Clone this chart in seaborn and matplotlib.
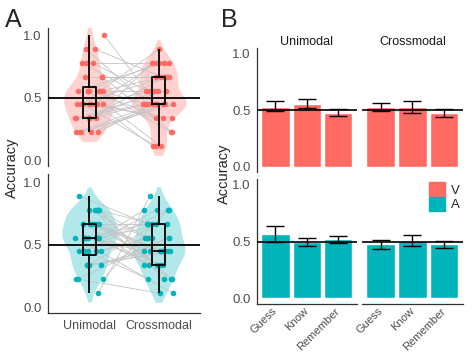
import numpy as np
import pandas as pd
import seaborn as sns
import matplotlib.pyplot as plt
from matplotlib.patches import Patch

# panel A: items correct (out of 9) per participant, same order in both conditions
v_uni = [4, 2, 5, 3, 9, 4, 5, 2, 7, 3, 4, 5, 8, 3, 4, 6, 2, 5, 4, 3, 7, 5, 4, 2, 6, 5, 3, 4, 8, 5, 2, 4, 7, 3, 6, 5]
v_cross = [6, 4, 1, 7, 4, 5, 3, 4, 4, 6, 7, 2, 4, 5, 1, 6, 4, 7, 3, 4, 5, 6, 8, 4, 2, 7, 4, 1, 6, 5, 4, 3, 7, 5, 6, 4]
a_uni = [5, 3, 6, 7, 2, 5, 4, 6, 8, 3, 5, 7, 1, 6, 4, 5, 3, 7, 6, 2, 5, 4, 6, 3, 7, 5, 4, 6, 2, 5, 7, 3, 6, 4, 5, 7]
a_cross = [4, 6, 3, 5, 1, 4, 7, 2, 6, 4, 3, 5, 8, 4, 2, 6, 5, 3, 4, 7, 1, 5, 6, 4, 2, 3, 7, 4, 5, 6, 2, 4, 3, 5, 7, 6]
n_items = 9

conds = ['Unimodal', 'Crossmodal']
resp = ['Guess', 'Know', 'Remember']

# panel B: mean accuracy per response type with error bar bounds
v_uni_mean = [0.53, 0.55, 0.477]
v_uni_lo = [0.49, 0.515, 0.45]
v_uni_hi = [0.58, 0.595, 0.51]
v_cross_mean = [0.524, 0.524, 0.47]
v_cross_lo = [0.494, 0.474, 0.441]
v_cross_hi = [0.56, 0.582, 0.506]
a_uni_mean = [0.565, 0.5, 0.518]
a_uni_lo = [0.5, 0.457, 0.49]
a_uni_hi = [0.633, 0.528, 0.547]
a_cross_mean = [0.475, 0.505, 0.475]
a_cross_lo = [0.435, 0.46, 0.445]
a_cross_hi = [0.513, 0.56, 0.505]

red = '#FF6B63'
teal = '#00B4BB'
grey_txt = '#4D4D4D'

sns.set_style('white')
plt.rcParams['font.family'] = ['Liberation Sans', 'DejaVu Sans']
np.random.seed(7)

W, H = 474, 353
fig = plt.figure(figsize=(W / 100, H / 100), dpi=100)


def px_axes(x0, y0, x1, y1):
    # rectangle given in pixels from the top-left corner
    return fig.add_axes([x0 / W, 1 - y1 / H, (x1 - x0) / W, (y1 - y0) / H])


def style_y(ax, show=True):
    ax.set_yticks([0, 0.5, 1.0])
    if show:
        ax.set_yticklabels(['0.0', '0.5', '1.0'])
        ax.tick_params(axis='y', length=3, width=0.8, color='#333333',
                       labelsize=9.5, labelcolor=grey_txt, pad=1.5)
    else:
        ax.tick_params(axis='y', length=0, labelleft=False)
    ax.set_ylabel('')
    ax.set_xlabel('')
    for s in ax.spines.values():
        s.set_visible(False)
        s.set_color('#333333')
        s.set_linewidth(0.9)
    ax.spines['left'].set_visible(show)


def violin_panel(ax, uni, cross, col, bottom):
    df = pd.DataFrame({'cond': ['Unimodal'] * len(uni) + ['Crossmodal'] * len(cross),
                       'acc': np.array(uni + cross) / n_items})
    sns.violinplot(data=df, x='cond', y='acc', order=conds, color=col, inner=None,
                   linewidth=0, cut=1, bw_adjust=0.75, saturation=1, alpha=0.3, ax=ax)
    n0 = len(ax.collections)
    sns.stripplot(data=df, x='cond', y='acc', order=conds, color=col, size=4,
                  jitter=0.22, linewidth=0, ax=ax, zorder=4)
    pts = np.concatenate([c.get_offsets() for c in ax.collections[n0:]])
    left = pts[pts[:, 0] < 0.5]
    right = pts[pts[:, 0] >= 0.5]
    for p, q in zip(left, right):
        ax.plot([p[0], q[0]], [p[1], q[1]], color='#C4C4C4', lw=0.6, zorder=3)
    sns.boxplot(data=df, x='cond', y='acc', order=conds, fill=False, color='black',
                width=0.2, whis=(0, 100), showcaps=False, linewidth=1.3, ax=ax, zorder=5)
    ax.axhline(0.5, color='black', lw=1.3, zorder=6)
    ax.set_xlim(-0.6, 1.6)
    ax.set_ylim(-0.05, 1.06)
    style_y(ax)
    if bottom:
        ax.spines['bottom'].set_visible(True)
        ax.tick_params(axis='x', length=3, width=0.8, color='#333333',
                       labelsize=9, labelcolor=grey_txt, pad=2)
    else:
        ax.tick_params(axis='x', length=0, labelbottom=False)


def bar_panel(ax, means, lo, hi, col, left, bottom):
    sns.barplot(x=resp, y=means, color=col, saturation=1, width=0.9, ax=ax)
    xs = [p.get_x() + p.get_width() / 2 for p in ax.patches]
    yerr = [np.array(means) - np.array(lo), np.array(hi) - np.array(means)]
    ax.errorbar(xs, means, yerr=yerr, fmt='none', ecolor='black', elinewidth=1,
                capsize=6.8, capthick=1, zorder=5)
    ax.axhline(0.5, color='black', lw=1.2, zorder=6)
    ax.set_xlim(-0.6, 2.6)
    ax.set_ylim(-0.05, 1.05)
    style_y(ax, left)
    if bottom:
        ax.spines['bottom'].set_visible(True)
        ax.tick_params(axis='x', length=3, width=0.8, color='#333333', pad=1)
        ax.set_xticks(xs)
        ax.set_xticklabels(resp, rotation=45, ha='right', va='center',
                           rotation_mode='anchor', fontsize=8, color=grey_txt)
    else:
        ax.tick_params(axis='x', length=0, labelbottom=False)


# panel A
axA1 = px_axes(48, 27.5, 200, 166.3)
axA2 = px_axes(48, 174.5, 200, 313.3)
violin_panel(axA1, v_uni, v_cross, red, False)
violin_panel(axA2, a_uni, a_cross, teal, True)

# panel B
axB1 = px_axes(256.7, 47.7, 356.7, 172.4)
axB2 = px_axes(361.7, 47.7, 463, 172.4)
axB3 = px_axes(256.7, 179, 356.7, 304)
axB4 = px_axes(361.7, 179, 463, 304)
bar_panel(axB1, v_uni_mean, v_uni_lo, v_uni_hi, red, True, False)
bar_panel(axB2, v_cross_mean, v_cross_lo, v_cross_hi, red, False, False)
bar_panel(axB3, a_uni_mean, a_uni_lo, a_uni_hi, teal, True, True)
bar_panel(axB4, a_cross_mean, a_cross_lo, a_cross_hi, teal, False, True)
axB1.set_title('Unimodal', fontsize=9, color='#1A1A1A', pad=2)
axB2.set_title('Crossmodal', fontsize=9, color='#1A1A1A', pad=2)

fig.legend([Patch(color=red), Patch(color=teal)], ['V', 'A'], loc='upper left',
           bbox_to_anchor=(429 / W, 1 - 182 / H), frameon=False, fontsize=9.5,
           handlelength=1.2, handleheight=1.3, handletextpad=0.5,
           labelspacing=0, borderpad=0, borderaxespad=0)

fig.text(5 / W, 1 - 27 / H, 'A', fontsize=18, va='baseline')
fig.text(221 / W, 1 - 27 / H, 'B', fontsize=18, va='baseline')
fig.text(12 / W, 1 - 168 / H, 'Accuracy', fontsize=10.5, rotation=90, ha='center', va='center')
fig.text(224 / W, 1 - 174 / H, 'Accuracy', fontsize=10.5, rotation=90, ha='center', va='center')

fig.savefig('out.png', dpi=100)
